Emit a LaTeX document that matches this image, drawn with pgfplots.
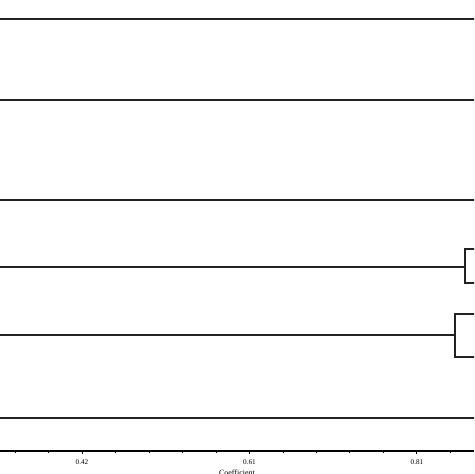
\documentclass[border=0pt]{standalone}
\usepackage{pgfplots}
\pgfplotsset{compat=1.18}
\usepackage{fontspec}
\setmainfont{Liberation Serif}

\definecolor{treeline}{HTML}{222222}

\begin{document}
\begin{tikzpicture}
\begin{axis}[
    name=ax,
    scale only axis,
    width=237pt, height=225.5pt,
    xmin=0.3245, xmax=0.8764,
    ymin=0, ymax=451,
    y dir=reverse,
    axis x line*=bottom,
    axis y line=none,
    x axis line style={line width=0.6pt, black},
    xtick={0.42,0.615,0.81},
    xticklabels={0.42,0.61,0.81},
    minor xtick={0.342,0.381,0.459,0.498,0.537,0.576,0.654,0.693,0.732,0.771,0.849},
    tick align=outside,
    major tick length=1.6pt,
    minor tick length=1.1pt,
    tick style={line width=0.5pt, black},
    ticklabel style={font=\fontsize{3.6}{4}\selectfont},
    xticklabel style={yshift=0.8pt},
    /pgf/number format/assume math mode=true,
    xlabel={Coefficient},
    xlabel style={font=\fontsize{4}{4.5}\selectfont, yshift=4.2pt},
]
% leaves that join further left (outside the crop)
\addplot[treeline, line width=1.2pt] coordinates {(0.30,19) (0.90,19)};
\addplot[treeline, line width=1.2pt] coordinates {(0.30,100) (0.90,100)};
\addplot[treeline, line width=1.2pt] coordinates {(0.30,200) (0.90,200)};
\addplot[treeline, line width=1.2pt] coordinates {(0.30,418) (0.90,418)};
% cluster joined at 0.866
\addplot[treeline, line width=1.2pt] coordinates {(0.30,267) (0.8659,267)};
\addplot[treeline, line width=1.2pt] coordinates {(0.90,249) (0.8659,249) (0.8659,283) (0.90,283)};
% cluster joined at 0.854
\addplot[treeline, line width=1.2pt] coordinates {(0.30,335) (0.8543,335)};
\addplot[treeline, line width=1.2pt] coordinates {(0.90,314) (0.8543,314) (0.8543,357) (0.90,357)};
\end{axis}
\pgfresetboundingbox
\path[use as bounding box] (0,-11.5pt) rectangle (237pt,225.5pt);
\end{tikzpicture}
\end{document}
